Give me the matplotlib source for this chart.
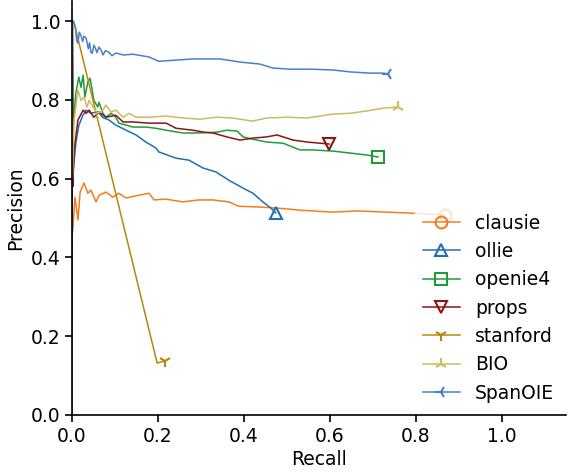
import matplotlib
matplotlib.use("Agg")
import matplotlib.pyplot as plt

# precision / recall points
clausie_r = [0.0, 0.002, 0.007, 0.014, 0.019, 0.028, 0.037, 0.044, 0.056, 0.063, 0.079, 0.095,
             0.109, 0.126, 0.156, 0.179, 0.191, 0.219, 0.258, 0.295, 0.328, 0.365, 0.388, 0.435,
             0.481, 0.530, 0.607, 0.663, 0.733, 0.779, 0.826, 0.867]
clausie_p = [0.455, 0.47, 0.553, 0.495, 0.566, 0.589, 0.563, 0.571, 0.541, 0.558, 0.566, 0.553,
             0.563, 0.551, 0.558, 0.563, 0.546, 0.548, 0.541, 0.546, 0.546, 0.541, 0.530, 0.528,
             0.525, 0.520, 0.515, 0.518, 0.515, 0.513, 0.510, 0.508]

ollie_r = [0.0, 0.001, 0.003, 0.009, 0.016, 0.025, 0.033, 0.044, 0.060, 0.072, 0.086, 0.102,
           0.126, 0.149, 0.172, 0.195, 0.202, 0.242, 0.272, 0.305, 0.335, 0.365, 0.398, 0.421,
           0.444, 0.463, 0.474]
ollie_p = [0.0, 1.0, 0.62, 0.69, 0.735, 0.76, 0.774, 0.766, 0.77, 0.755, 0.749, 0.736,
           0.723, 0.711, 0.693, 0.678, 0.668, 0.652, 0.647, 0.627, 0.617, 0.596, 0.576, 0.563,
           0.541, 0.525, 0.513]

openie4_r = [0.0, 0.002, 0.009, 0.016, 0.021, 0.026, 0.030, 0.037, 0.042, 0.047, 0.051, 0.060,
             0.063, 0.072, 0.079, 0.091, 0.102, 0.109, 0.126, 0.142, 0.172, 0.195, 0.219, 0.258,
             0.295, 0.337, 0.360, 0.384, 0.398, 0.421, 0.453, 0.491, 0.530, 0.560, 0.607, 0.647,
             0.686, 0.712]
openie4_p = [1.0, 0.723, 0.817, 0.858, 0.832, 0.863, 0.807, 0.845, 0.855, 0.825, 0.799, 0.782,
             0.794, 0.766, 0.756, 0.766, 0.756, 0.741, 0.736, 0.731, 0.731, 0.728, 0.723, 0.716,
             0.716, 0.718, 0.723, 0.721, 0.706, 0.700, 0.693, 0.690, 0.673, 0.673, 0.670, 0.665,
             0.660, 0.655]

props_r = [0.0, 0.001, 0.002, 0.005, 0.014, 0.026, 0.033, 0.040, 0.051, 0.063, 0.079, 0.102,
           0.119, 0.142, 0.179, 0.219, 0.242, 0.281, 0.307, 0.328, 0.360, 0.391, 0.421, 0.453,
           0.477, 0.491, 0.514, 0.547, 0.577, 0.598]
props_p = [1.0, 1.0, 0.58, 0.673, 0.749, 0.774, 0.766, 0.774, 0.756, 0.769, 0.756, 0.761,
           0.744, 0.744, 0.741, 0.741, 0.728, 0.723, 0.718, 0.716, 0.706, 0.698, 0.703, 0.706,
           0.711, 0.706, 0.698, 0.693, 0.690, 0.688]

stanford_r = [0.0, 0.0, 0.004, 0.198, 0.216]
stanford_p = [0.57, 1.0, 1.0, 0.132, 0.137]

bio_r = [0.0, 0.001, 0.005, 0.014, 0.021, 0.028, 0.035, 0.040, 0.049, 0.060, 0.072, 0.079,
         0.091, 0.102, 0.119, 0.133, 0.149, 0.179, 0.219, 0.258, 0.298, 0.337, 0.374, 0.419,
         0.453, 0.500, 0.547, 0.607, 0.647, 0.686, 0.723, 0.758]
bio_p = [1.0, 0.6, 0.749, 0.825, 0.799, 0.807, 0.782, 0.799, 0.782, 0.766, 0.774, 0.787,
         0.769, 0.774, 0.756, 0.766, 0.756, 0.756, 0.759, 0.754, 0.751, 0.756, 0.754, 0.746,
         0.754, 0.756, 0.754, 0.764, 0.766, 0.772, 0.779, 0.782]

spanoie_r = [0.0, 0.002, 0.008, 0.011, 0.014, 0.017, 0.021, 0.025, 0.028, 0.033, 0.038, 0.041,
             0.044, 0.047, 0.051, 0.055, 0.058, 0.063, 0.068, 0.072, 0.078, 0.086, 0.093, 0.102,
             0.120, 0.142, 0.179, 0.202, 0.242, 0.281, 0.307, 0.344, 0.391, 0.437, 0.467, 0.507,
             0.553, 0.607, 0.647, 0.693, 0.723, 0.735]
spanoie_p = [1.0, 1.0, 0.985, 0.95, 0.944, 0.972, 0.964, 0.948, 0.962, 0.957, 0.93, 0.945,
             0.921, 0.918, 0.939, 0.93, 0.92, 0.934, 0.926, 0.914, 0.925, 0.921, 0.912, 0.919,
             0.914, 0.916, 0.909, 0.898, 0.901, 0.904, 0.904, 0.904, 0.896, 0.891, 0.881, 0.878,
             0.878, 0.876, 0.871, 0.868, 0.868, 0.866]

curves = [
    ("clausie", clausie_r, clausie_p, "#f57d1f", "o"),
    ("ollie", ollie_r, ollie_p, "#1f6fb4", "^"),
    ("openie4", openie4_r, openie4_p, "#1e9c3a", "s"),
    ("props", props_r, props_p, "#8b1414", "v"),
    ("stanford", stanford_r, stanford_p, "#b8860b", "1"),
    ("BIO", bio_r, bio_p, "#cdbb5c", "2"),
    ("SpanOIE", spanoie_r, spanoie_p, "#4a80c8", "3"),
]

plt.rcParams['font.family'] = ['DejaVu Sans']
plt.rcParams['font.size'] = 13.5

fig = plt.figure(figsize=(5.71, 4.74), dpi=100)
ax = fig.add_axes([0.126, 0.1245, 0.866, 0.8725])

for name, r, p, color, marker in curves:
    ax.plot(r, p, color=color, linewidth=1.1, marker=marker, markevery=[-1],
            markersize=8.5, markerfacecolor='none', markeredgewidth=1.5, label=name)

ax.set_xlim(0, 1.15)
ax.set_ylim(0, 1.05)
ax.set_xticks([0.0, 0.2, 0.4, 0.6, 0.8, 1.0])
ax.set_yticks([0.0, 0.2, 0.4, 0.6, 0.8, 1.0])
ax.set_xlabel("Recall", labelpad=3)
ax.set_ylabel("Precision")
ax.spines['top'].set_visible(False)
ax.spines['right'].set_visible(False)
ax.spines['left'].set_linewidth(1.2)
ax.spines['bottom'].set_linewidth(1.2)
ax.tick_params(length=5, width=1.2)

leg = ax.legend(loc='lower right', fontsize=13.5, edgecolor='white', framealpha=0.8,
                fancybox=False, labelspacing=0.5, borderaxespad=0.25)

fig.savefig("out.png", dpi=100)
